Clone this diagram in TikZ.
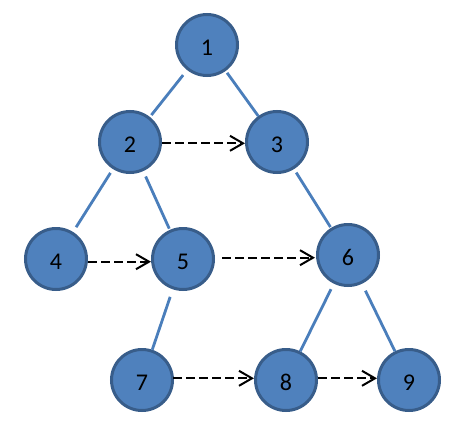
\documentclass[tikz,border=0pt]{standalone}
\usepackage{fontspec}
\setmainfont{Carlito}
\usetikzlibrary{arrows.meta}
\definecolor{nodefill}{HTML}{4F81BD}
\definecolor{nodeline}{HTML}{385D8A}
\definecolor{edgeline}{HTML}{4A7EBB}
\begin{document}
\begin{tikzpicture}[x=1pt,y=-1pt,
  treenode/.style={circle,fill=nodefill,draw=nodeline,line width=3pt,
    minimum size=61pt,inner sep=0pt,font=\fontsize{24}{26}\selectfont,text=black,
    text height=20.5pt,text depth=0pt},
  treeedge/.style={draw=edgeline,line width=2.8pt},
  darr/.style={draw=black,line width=2pt,dash pattern=on 8.5pt off 4.5pt,
    -{Straight Barb[length=13pt,width=15pt]}}]
\useasboundingbox (0,0) rectangle (463,428);
\node[treenode] (n1) at (207,45) {1};
\node[treenode] (n2) at (130,142) {2};
\node[treenode] (n3) at (277,142) {3};
\node[treenode] (n4) at (56,259) {4};
\node[treenode] (n5) at (183,259) {5};
\node[treenode] (n6) at (348,255) {6};
\node[treenode] (n7) at (142,380) {7};
\node[treenode] (n8) at (286,380) {8};
\node[treenode] (n9) at (409,380) {9};
% tree edges
\draw[treeedge,shorten <=6.4pt,shorten >=2.4pt] (n1) -- (n2);
\draw[treeedge,shorten <=2.3pt] (n1) -- (n3);
\draw[treeedge,shorten <=4.6pt,shorten >=5.6pt] (n2) -- (n4);
\draw[treeedge,shorten <=5.9pt,shorten >=1.3pt] (n2) -- (n5);
\draw[treeedge,shorten <=4.1pt,shorten >=1pt] (n3) -- (n6);
\draw[treeedge,shorten <=8pt] (n5) -- (n7);
\draw[treeedge,shorten <=6.2pt] (n6) -- (n8);
\draw[treeedge,shorten <=7.7pt] (n6) -- (n9);
% dashed arrows
\draw[darr] ([yshift=-1.3pt]n2.east) -- ([yshift=-1.3pt]n3.west);
\draw[darr] ([yshift=-2.7pt]n4.east) -- ([yshift=-2.7pt]n5.west);
\draw[darr] ([xshift=7pt,yshift=1.3pt]n5.east) -- ([xshift=-1pt,yshift=-2.7pt]n6.west);
\draw[darr] ([xshift=-1pt,yshift=1.7pt]n7.east) -- ([yshift=1.7pt]n8.west);
\draw[darr] ([yshift=1.7pt]n8.east) -- ([yshift=1.7pt]n9.west);
\end{tikzpicture}
\end{document}
